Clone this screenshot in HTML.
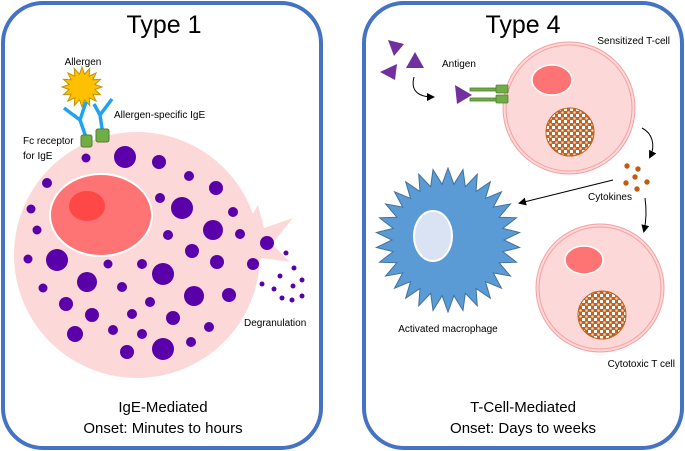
<!DOCTYPE html>
<html><head><meta charset="utf-8"><style>
html,body{margin:0;padding:0;background:#fff;}
svg{display:block;font-family:"Liberation Sans",Arial,sans-serif;}
</style></head><body>
<svg id="s" width="685" height="451" viewBox="0 0 685 451" xmlns="http://www.w3.org/2000/svg">
<defs>
<pattern id="chk" width="6" height="6" patternUnits="userSpaceOnUse">
<rect width="6" height="6" fill="#c2611d"/>
<rect x="0" y="0" width="3" height="3" fill="#fff"/>
<circle cx="4.5" cy="4.5" r="1.3" fill="#fff" opacity=".7"/>
</pattern>
<marker id="ah" markerWidth="8" markerHeight="8" refX="6" refY="4" orient="auto" markerUnits="userSpaceOnUse">
<path d="M0,0 L8,4 L0,8 z" fill="#000"/>
</marker>
</defs>
<rect x="3" y="3" width="318" height="445" rx="40" fill="#fff" stroke="#4472c4" stroke-width="4"/>
<rect x="364" y="3" width="318" height="445" rx="40" fill="#fff" stroke="#4472c4" stroke-width="4"/>
<text x="164" y="33" font-size="25" text-anchor="middle">Type 1</text>
<text x="523" y="33" font-size="25" text-anchor="middle">Type 4</text>
<text x="163" y="412" font-size="15" text-anchor="middle">IgE-Mediated</text>
<text x="163" y="433" font-size="15" text-anchor="middle">Onset: Minutes to hours</text>
<text x="523" y="412" font-size="15" text-anchor="middle">T-Cell-Mediated</text>
<text x="523" y="433" font-size="15" text-anchor="middle">Onset: Days to weeks</text>

<!-- left cell -->
<polygon points="248,222 258,205 264,228 293,218 272,244 290,262 262,258 250,275" fill="#fdd8d8"/>
<circle cx="137" cy="255" r="123" fill="#fdd8d8"/>
<ellipse cx="101" cy="215" rx="51" ry="41" fill="#fe7373" stroke="#fff" stroke-width="2"/>
<ellipse cx="87" cy="206" rx="18" ry="15" fill="#fe4848"/>
<g fill="#5a00aa" id="gran"></g>
<g fill="#5a00aa">
<circle cx="286" cy="253" r="2.5"/><circle cx="294" cy="268" r="2.5"/><circle cx="280" cy="276" r="2.5"/><circle cx="302" cy="280" r="2.5"/><circle cx="293" cy="286" r="2.5"/><circle cx="262" cy="284" r="2.5"/><circle cx="274" cy="289" r="2.5"/><circle cx="302" cy="296" r="2.5"/><circle cx="282" cy="298" r="2.5"/><circle cx="292" cy="300" r="2.5"/>
</g>
<polygon id="star1" fill="#ffc000" stroke="#c79100" stroke-width="1"/>
<g stroke="#1fa3f0" stroke-width="3.5" fill="none" stroke-linecap="butt">
<path d="M64,108 L80,120 L87,140 M80,120 L86,102"/>
<path d="M94,104 L100,115 L103,135 M100,115 L112,99"/>
</g>
<rect x="81" y="135" width="11" height="12" rx="2" fill="#70ad47" stroke="#507e32"/>
<rect x="96" y="129" width="13" height="13" rx="2" fill="#70ad47" stroke="#507e32"/>
<text x="83" y="65" font-size="10" text-anchor="middle">Allergen</text>
<text x="114" y="118" font-size="10">Allergen-specific IgE</text>
<text x="23" y="144" font-size="10">Fc receptor</text>
<text x="23" y="159" font-size="10">for IgE</text>
<text x="244" y="326" font-size="10">Degranulation</text>

<!-- right -->
<circle cx="569" cy="108" r="66" fill="#fdd8d8" stroke="#f5a0a0" stroke-width="1"/>
<circle cx="569" cy="108" r="63" fill="none" stroke="#f5a0a0" stroke-width="1"/>
<ellipse cx="552" cy="80" rx="20" ry="15" fill="#fe7373" stroke="#fff" stroke-width="1.5"/>
<circle cx="570" cy="132" r="24" fill="url(#chk)" stroke="#c2611d"/>
<circle cx="600" cy="288" r="64" fill="#fdd8d8" stroke="#f5a0a0" stroke-width="1"/>
<circle cx="600" cy="288" r="61" fill="none" stroke="#f5a0a0" stroke-width="1"/>
<ellipse cx="584" cy="260" rx="19" ry="14" fill="#fe7373" stroke="#fff" stroke-width="1.5"/>
<circle cx="602" cy="315" r="24" fill="url(#chk)" stroke="#c2611d"/>
<g fill="#7030a0">
<polygon points="388,40 404,44 394,56"/>
<polygon points="415,52 424,68 406,68"/>
<polygon points="380,72 397,64 395,80"/>
<polygon points="455,85 472,95 457,104"/>
</g>
<g fill="#70ad47" stroke="#507e32" stroke-width=".8">
<rect x="470" y="88" width="28" height="3"/><rect x="470" y="98" width="28" height="3"/>
<rect x="496" y="85" width="12" height="8" rx="1"/><rect x="496" y="95" width="12" height="8" rx="1"/>
</g>
<path d="M414,77 C410,92 420,97 433,97" fill="none" stroke="#000" stroke-width="1" marker-end="url(#ah)"/>
<path d="M642,128 C652,133 656,145 650,157" fill="none" stroke="#000" stroke-width="1" marker-end="url(#ah)"/>
<path d="M613,180 L520,203" fill="none" stroke="#000" stroke-width="1" marker-end="url(#ah)"/>
<path d="M645,198 C647,212 646,222 644,231" fill="none" stroke="#000" stroke-width="1" marker-end="url(#ah)"/>
<g fill="#c55a11">
<circle cx="627" cy="166" r="2.7"/><circle cx="638" cy="169" r="2.7"/><circle cx="635" cy="177" r="2.7"/><circle cx="626" cy="183" r="2.7"/><circle cx="647" cy="182" r="2.7"/><circle cx="637" cy="189" r="2.7"/>
</g>
<polygon id="mac" fill="#5b9bd5" stroke="#41719c" stroke-width="1"/>
<ellipse cx="433" cy="236" rx="19" ry="25" fill="#dae3f3" stroke="#fff" stroke-width="2"/>
<text x="670" y="44" font-size="10" text-anchor="end">Sensitized T-cell</text>
<text x="442" y="67" font-size="10">Antigen</text>
<text x="610" y="200" font-size="10" text-anchor="middle">Cytokines</text>
<text x="448" y="332" font-size="10" text-anchor="middle">Activated macrophage</text>
<text x="675" y="367" font-size="10" text-anchor="end">Cytotoxic T cell</text>
</svg>
<script>
function star(id,cx,cy,ro,ri,n){var p=[];for(var i=0;i<2*n;i++){var r=i%2?ri:ro,a=Math.PI*i/n-Math.PI/2;p.push((cx+r*Math.cos(a)).toFixed(1)+","+(cy+r*Math.sin(a)).toFixed(1));}document.getElementById(id).setAttribute("points",p.join(" "));}
star("star1",82,87,20,13,16);
star("mac",448,240,72,56,30);
var g=[[86,158,4.5],[125,157,11],[159,162,7],[189,176,5],[216,188,7],[47,183,5],[31,209,4.5],[37,230,4.5],[28,259,4.5],[57,260,11],[43,288,4.5],[66,304,7],[75,334,8],[87,282,10],[92,315,7],[108,264,4.5],[122,287,5],[113,330,5],[132,314,5],[127,352,7],[142,264,5],[142,334,5],[150,302,5],[163,274,11],[163,349,11],[173,318,7],[191,342,5],[194,296,10],[209,327,5],[229,295,7],[217,262,7],[192,251,7],[168,235,5],[160,198,5],[182,208,11],[213,230,10],[233,212,5],[240,234,5],[253,264,6],[267,243,7]];
var h="";g.forEach(function(c){h+='<circle cx="'+c[0]+'" cy="'+c[1]+'" r="'+c[2]+'"/>';});
document.getElementById("gran").innerHTML=h;
</script>
</body></html>
